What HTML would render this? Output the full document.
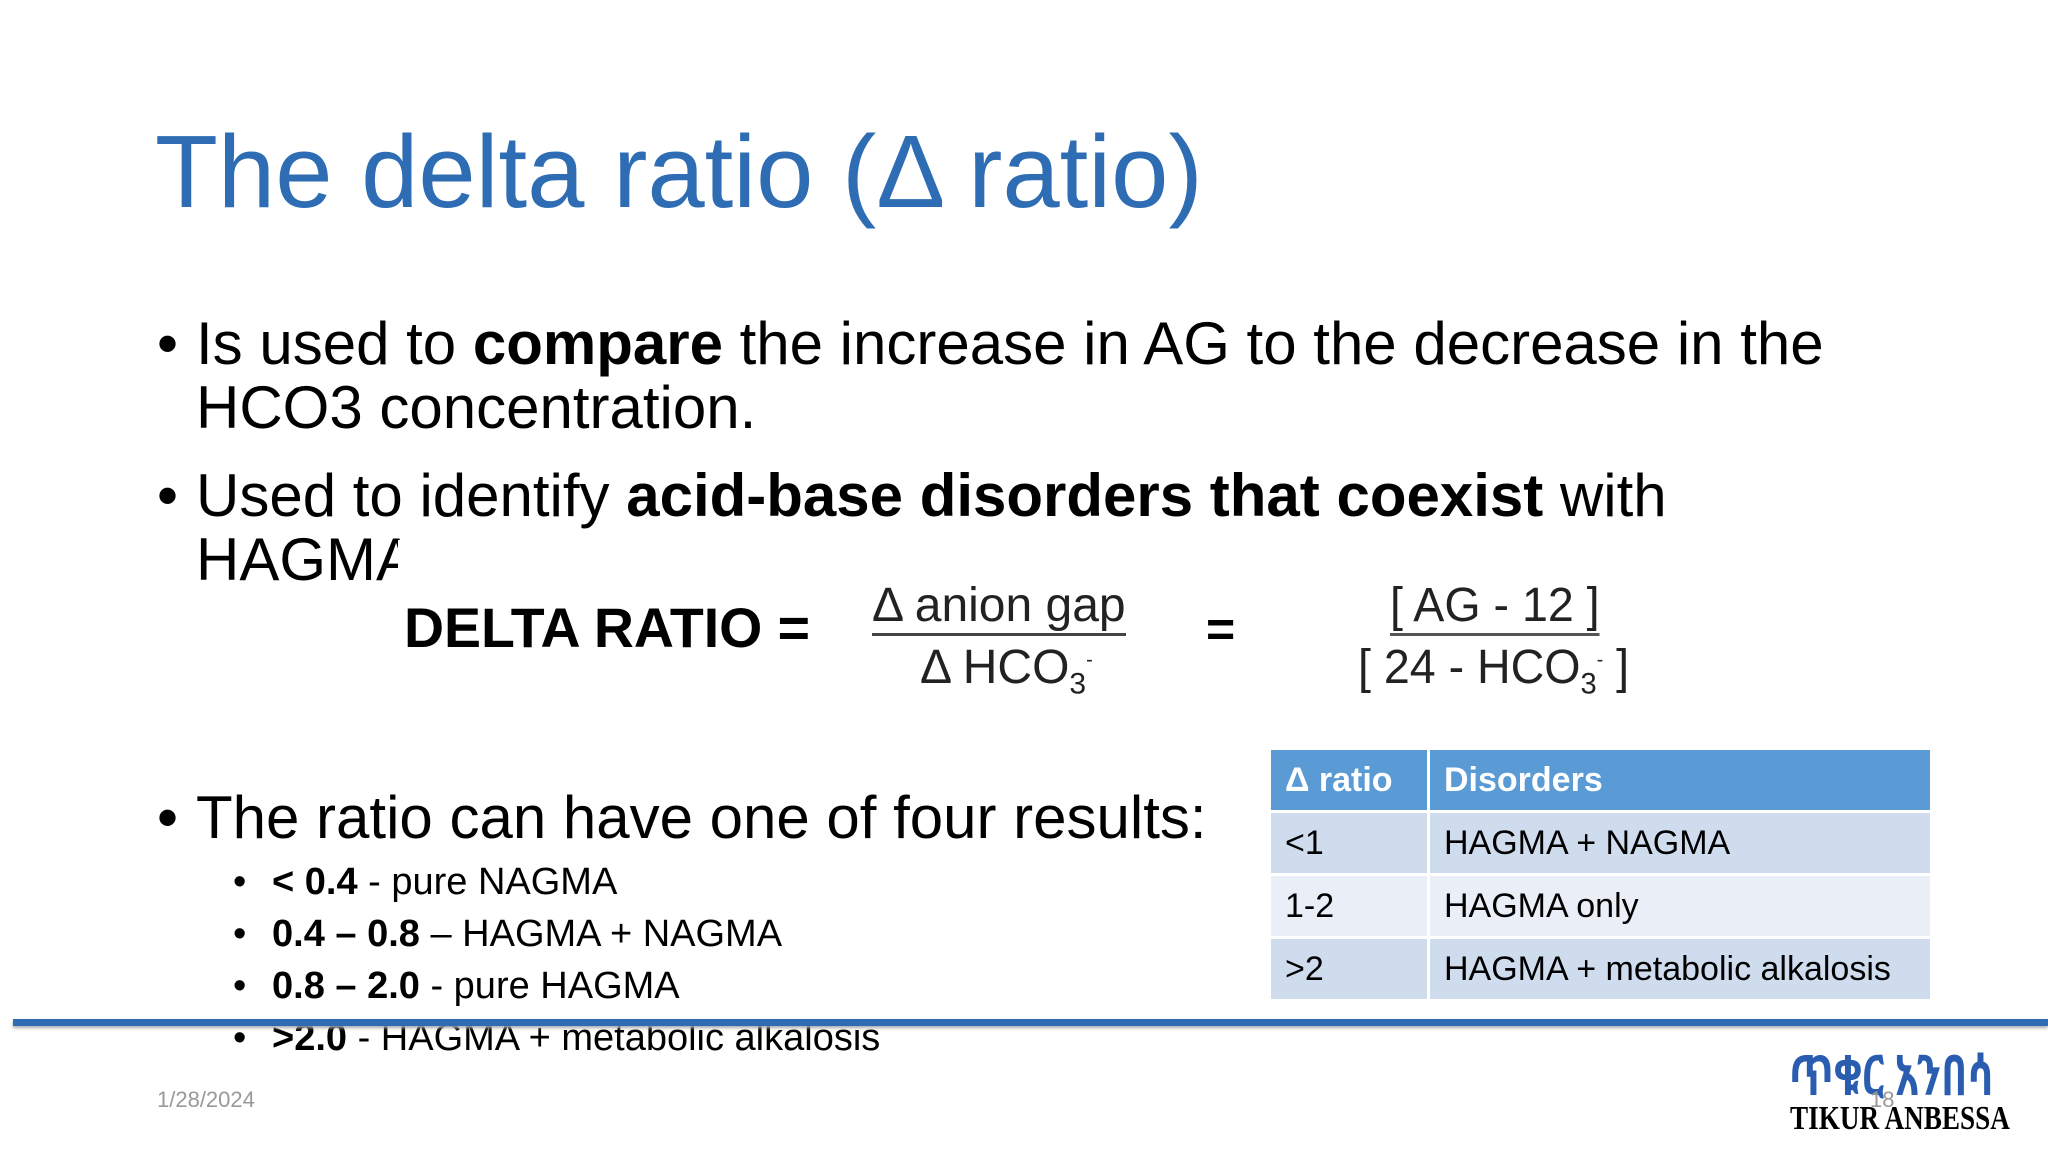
<!DOCTYPE html>
<html><head><meta charset="utf-8">
<style>
body{margin:0;width:2048px;height:1152px;background:#fff;position:relative;overflow:hidden;font-family:"Liberation Sans",sans-serif;color:#000}
.a{position:absolute;white-space:nowrap}
.b{font-size:60px;line-height:64px}
.s{font-size:38px;line-height:40px}
table{position:absolute;left:1268px;top:747px;border-collapse:collapse;font-family:"Liberation Sans",sans-serif;font-size:34px}
td{border:3px solid #fff;padding:0 0 0 14px;height:60px}
</style></head><body>
<div class="a" style="left:155px;top:113px;font-size:103px;color:#2e6db4">The delta ratio (Δ ratio)</div>

<div class="a b" style="left:157px;top:312px">•</div>
<div class="a b" style="left:196px;top:312px">Is used to <b>compare</b> the increase in AG to the decrease in the<br>HCO3 concentration.</div>
<div class="a b" style="left:157px;top:464px">•</div>
<div class="a b" style="left:196px;top:464px">Used to identify <b>acid-base disorders that coexist</b> with<br>HAGMA</div>

<div class="a" style="left:398px;top:540px;width:1270px;height:170px;background:#fff">
 <div class="a" style="left:6px;top:55px;font-size:56px;font-weight:bold;transform:scaleX(0.99);transform-origin:left">DELTA RATIO =</div>
 <div class="a" style="left:474px;top:38px;font-size:48px;color:#222;border-bottom:3px solid #444;transform:scaleX(1.0);transform-origin:left">Δ anion gap</div>
 <div class="a" style="left:522px;top:100px;font-size:48px;color:#222;transform:scaleX(1.0);transform-origin:left">Δ HCO<sub style="font-size:30px">3</sub><sup style="font-size:20px">-</sup></div>
 <div class="a" style="left:808px;top:60px;font-size:50px;font-weight:bold">=</div>
 <div class="a" style="left:992px;top:38px;font-size:48px;color:#222;border-bottom:3px solid #555;transform:scaleX(0.97);transform-origin:left">[ AG - 12 ]</div>
 <div class="a" style="left:960px;top:100px;font-size:48px;color:#222;transform:scaleX(0.97);transform-origin:left">[ 24 - HCO<sub style="font-size:30px">3</sub><sup style="font-size:20px">-</sup> ]</div>
</div>

<div class="a b" style="left:157px;top:786px">•</div>
<div class="a b" style="left:196px;top:786px">The ratio can have one of four results:</div>
<div class="a s" style="left:233px;top:856px;line-height:52px">•<br>•<br>•<br>•</div>
<div class="a s" style="left:272px;top:856px;line-height:52px"><b>&lt; 0.4</b> - pure NAGMA<br><b>0.4 – 0.8</b> – HAGMA + NAGMA<br><b>0.8 – 2.0</b> - pure HAGMA<br><b>&gt;2.0</b> - HAGMA + metabolic alkalosis</div>

<table>
<tr style="background:#5b9bd5;color:#fff;font-weight:bold"><td style="width:142px;height:56px">Δ ratio</td><td style="width:486px">Disorders</td></tr>
<tr style="background:#cfdcee"><td>&lt;1</td><td>HAGMA + NAGMA</td></tr>
<tr style="background:#e9eef7"><td>1-2</td><td>HAGMA only</td></tr>
<tr style="background:#cfdcee"><td>&gt;2</td><td>HAGMA + metabolic alkalosis</td></tr>
</table>

<div class="a" style="left:13px;top:1019px;width:2035px;height:7px;background:#2e6db4;box-shadow:0 2px 3px #aaa"></div>
<div class="a" style="left:157px;top:1087px;font-size:22px;color:#999">1/28/2024</div>
<div class="a" style="left:1789px;top:1036px;font-size:56px;font-weight:bold;color:#2a5db0;transform:scaleX(0.72);transform-origin:left;font-family:'Noto Sans Ethiopic','Abyssinica SIL','DejaVu Sans',sans-serif">ጥቁር አንበሳ</div>
<div class="a" style="left:1870px;top:1087px;font-size:22px;color:#999">18</div>
<div class="a" style="left:1790px;top:1100px;font-size:34px;font-family:'Liberation Serif',serif;font-weight:bold;transform:scaleX(0.8);transform-origin:left">TIKUR ANBESSA</div>
</body></html>
